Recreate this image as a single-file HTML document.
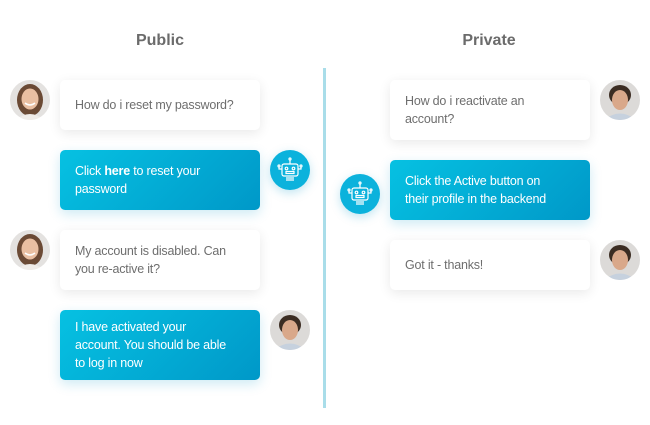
<!DOCTYPE html>
<html><head><meta charset="utf-8"><style>
*{margin:0;padding:0;box-sizing:border-box}
body{width:650px;height:425px;background:#fff;position:relative;overflow:hidden;font-family:"Liberation Sans",sans-serif}
.h{position:absolute;top:32px;font-size:16px;font-weight:bold;color:#6b6b6b;text-align:center;width:120px}
.b{position:absolute;width:200px;border-radius:5px;padding:0 0 0 15px;display:flex;align-items:center;font-size:12.5px;letter-spacing:-0.2px;line-height:18px;color:#6e6e6e;background:#fff;box-shadow:0 3px 12px rgba(0,0,0,0.09);white-space:nowrap}
.b.c{background:linear-gradient(135deg,#06c1e2,#0098c8);color:#fff;box-shadow:0 4px 12px rgba(0,150,200,0.2)}
.b span{display:block}
.av{position:absolute;width:40px;height:40px;border-radius:50%;overflow:hidden}
.bot{position:absolute;width:40px;height:40px;border-radius:50%;background:#0bb2dc;box-shadow:0 3px 10px rgba(0,150,200,0.25)}
.div{position:absolute;left:323px;top:68px;width:3px;height:340px;background:#a9dde9}
</style></head><body>
<div class="h" style="left:100px">Public</div>
<div class="h" style="left:429px">Private</div>
<div class="div"></div>

<svg width="0" height="0" style="position:absolute">
<defs>
<symbol id="w" viewBox="0 0 40 40"><rect width="40" height="40" fill="#e4e2e0"/><ellipse cx="20" cy="20" rx="13" ry="16" fill="#6b4a35"/><ellipse cx="20" cy="19" rx="8.5" ry="10.5" fill="#e9bfa2"/><path d="M6 40 Q20 28 34 40Z" fill="#f0ece8"/><path d="M15 23 Q20 27 25 23" stroke="#fff" stroke-width="1.5" fill="none"/></symbol>
<symbol id="m" viewBox="0 0 40 40"><rect width="40" height="40" fill="#dcdad8"/><ellipse cx="20" cy="15" rx="11" ry="10" fill="#3b2c22"/><ellipse cx="20" cy="20" rx="8" ry="10" fill="#d9a88a"/><path d="M4 40 Q20 27 36 40Z" fill="#c6d1de"/></symbol>
<symbol id="r" viewBox="0 0 40 40"><g fill="none" stroke="#fff" stroke-width="1.2"><rect x="12" y="14" width="16" height="12" rx="2"/><line x1="20" y1="10" x2="20" y2="14"/><circle cx="20" cy="9" r="1"/><path d="M12 19 H9 V17 M28 19 H31 V17"/><circle cx="9" cy="16" r="1"/><circle cx="31" cy="16" r="1"/><circle cx="16.5" cy="18.5" r="1.3"/><circle cx="23.5" cy="18.5" r="1.3"/><rect x="16" y="21.5" width="8" height="2"/><line x1="16" y1="28" x2="24" y2="28"/><line x1="16" y1="30" x2="24" y2="30"/></g></symbol>
</defs></svg>

<svg class="av" style="left:10px;top:80px"><use href="#w" width="40" height="40"/></svg>
<div class="b" style="left:60px;top:80px;height:50px"><span>How do i reset my password?</span></div>

<div class="b c" style="left:60px;top:150px;height:60px"><span>Click <b>here</b> to reset your<br>password</span></div>
<svg class="bot" style="left:270px;top:150px"><use href="#r" width="40" height="40"/></svg>

<svg class="av" style="left:10px;top:230px"><use href="#w" width="40" height="40"/></svg>
<div class="b" style="left:60px;top:230px;height:60px"><span>My account is disabled. Can<br>you re-active it?</span></div>

<div class="b c" style="left:60px;top:310px;height:70px"><span>I have activated your<br>account. You should be able<br>to log in now</span></div>
<svg class="av" style="left:270px;top:310px"><use href="#m" width="40" height="40"/></svg>

<div class="b" style="left:390px;top:80px;height:60px"><span>How do i reactivate an<br>account?</span></div>
<svg class="av" style="left:600px;top:80px"><use href="#m" width="40" height="40"/></svg>

<svg class="bot" style="left:340px;top:174px"><use href="#r" width="40" height="40"/></svg>
<div class="b c" style="left:390px;top:160px;height:60px"><span>Click the Active button on<br>their profile in the backend</span></div>

<div class="b" style="left:390px;top:240px;height:50px"><span>Got it - thanks!</span></div>
<svg class="av" style="left:600px;top:240px"><use href="#m" width="40" height="40"/></svg>
</body></html>
